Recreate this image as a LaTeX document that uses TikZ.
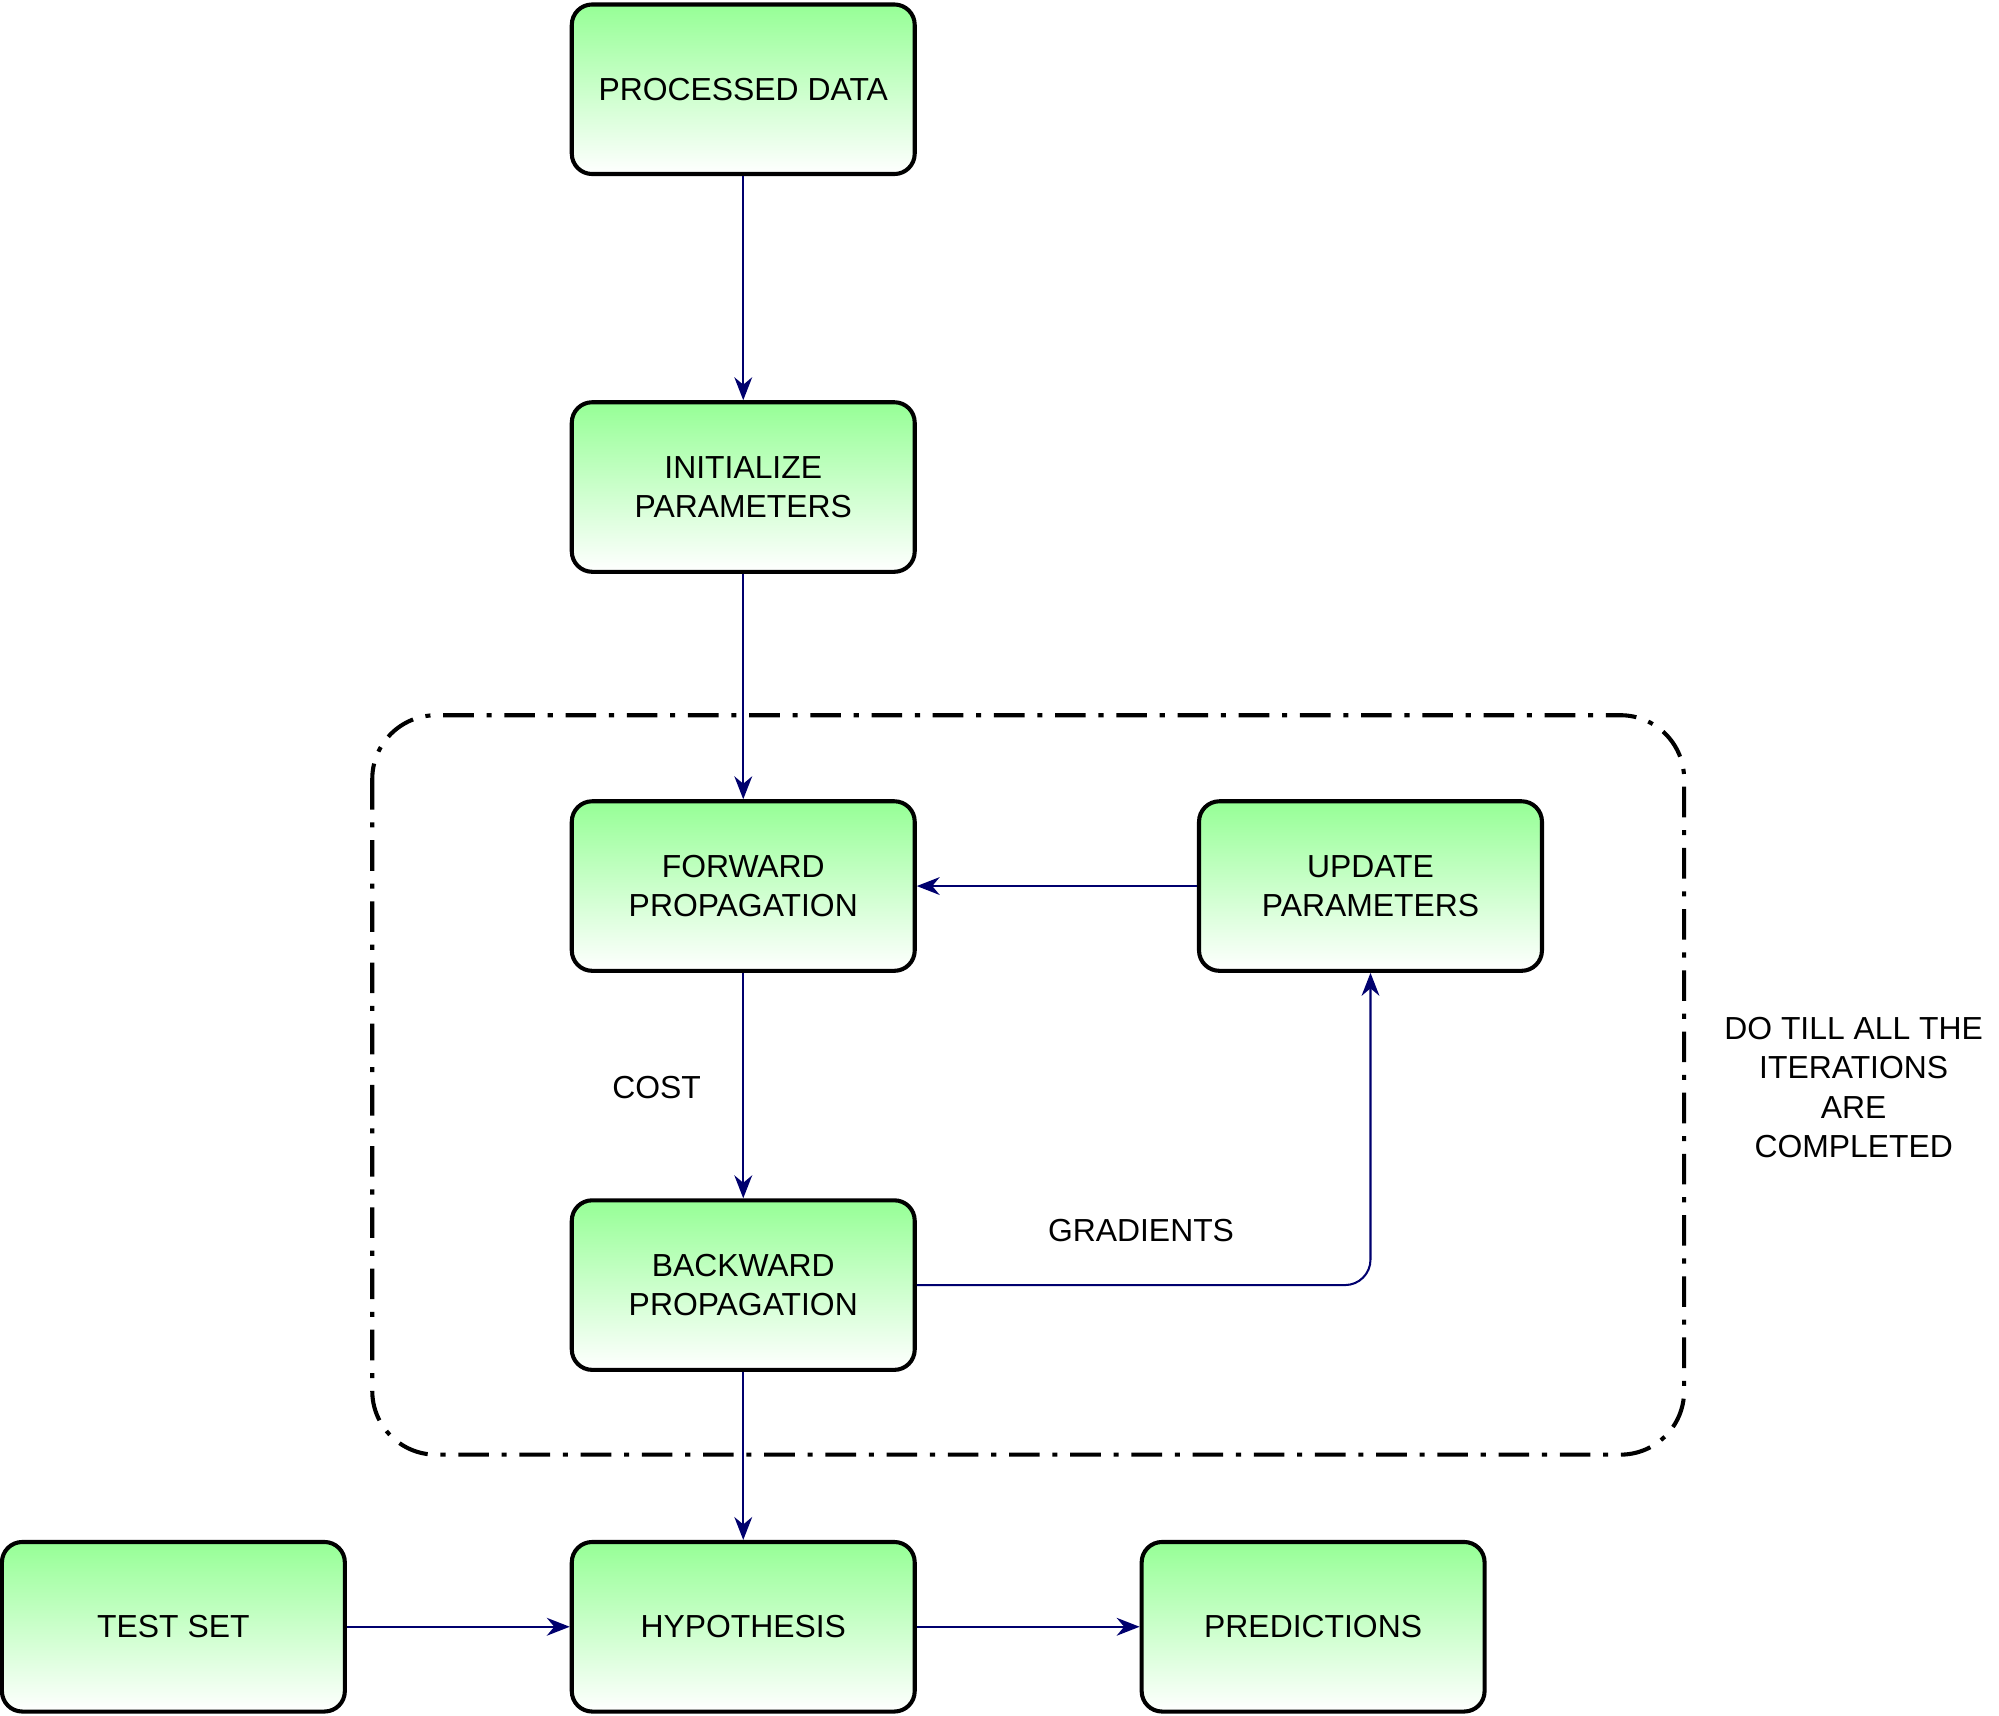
\documentclass[tikz,border=0pt]{standalone}
\usepackage{fontspec}
\setmainfont{Liberation Sans}
\usetikzlibrary{arrows.meta}
\definecolor{navyc}{RGB}{0,0,110}
\definecolor{topg}{RGB}{150,255,150}
\tikzset{
 x=0.5pt,y=-0.5pt,
 box/.style={draw,line width=1.6pt,rounded corners=8pt,minimum width=134.5pt,minimum height=66.5pt,top color=topg,bottom color=white,align=center,font=\fontsize{12.5}{15.5}\selectfont},
 arr/.style={draw=navyc,line width=0.8pt,-{Stealth[length=9pt,width=7pt]}},
 lbl/.style={align=center,font=\fontsize{12.5}{15.5}\selectfont}
}
\begin{document}
\begin{tikzpicture}
\useasboundingbox (0,0) rectangle (1568,1346);
\draw[line width=1.6pt,dash pattern=on 12pt off 5pt on 2pt off 5pt,rounded corners=25pt] (292,561) rectangle (1321,1141);
\node[box] (pd) at (583,70) {PROCESSED DATA};
\node[box] (ip) at (583,382) {INITIALIZE\\PARAMETERS};
\node[box] (fp) at (583,695) {FORWARD\\PROPAGATION};
\node[box] (up) at (1075,695) {UPDATE\\PARAMETERS};
\node[box] (bp) at (583,1008) {BACKWARD\\PROPAGATION};
\node[box] (hy) at (583,1276) {HYPOTHESIS};
\node[box] (ts) at (136,1276) {TEST SET};
\node[box] (pr) at (1030,1276) {PREDICTIONS};
\node[lbl] (cost) at (515,853) {COST};
\node[lbl] (grad) at (895,965) {GRADIENTS};
\node[lbl] (doit) at (1454,853) {DO TILL ALL THE\\ITERATIONS\\ARE\\COMPLETED};
\draw[arr] (pd) -- (ip);
\draw[arr] (ip) -- (fp);
\draw[arr] (fp) -- (bp);
\draw[arr] (up) -- (fp);
\draw[arr,rounded corners=10pt] (bp.east) -| (up.south);
\draw[arr] (bp) -- (hy);
\draw[arr] (ts) -- (hy);
\draw[arr] (hy) -- (pr);
\end{tikzpicture}
\end{document}
